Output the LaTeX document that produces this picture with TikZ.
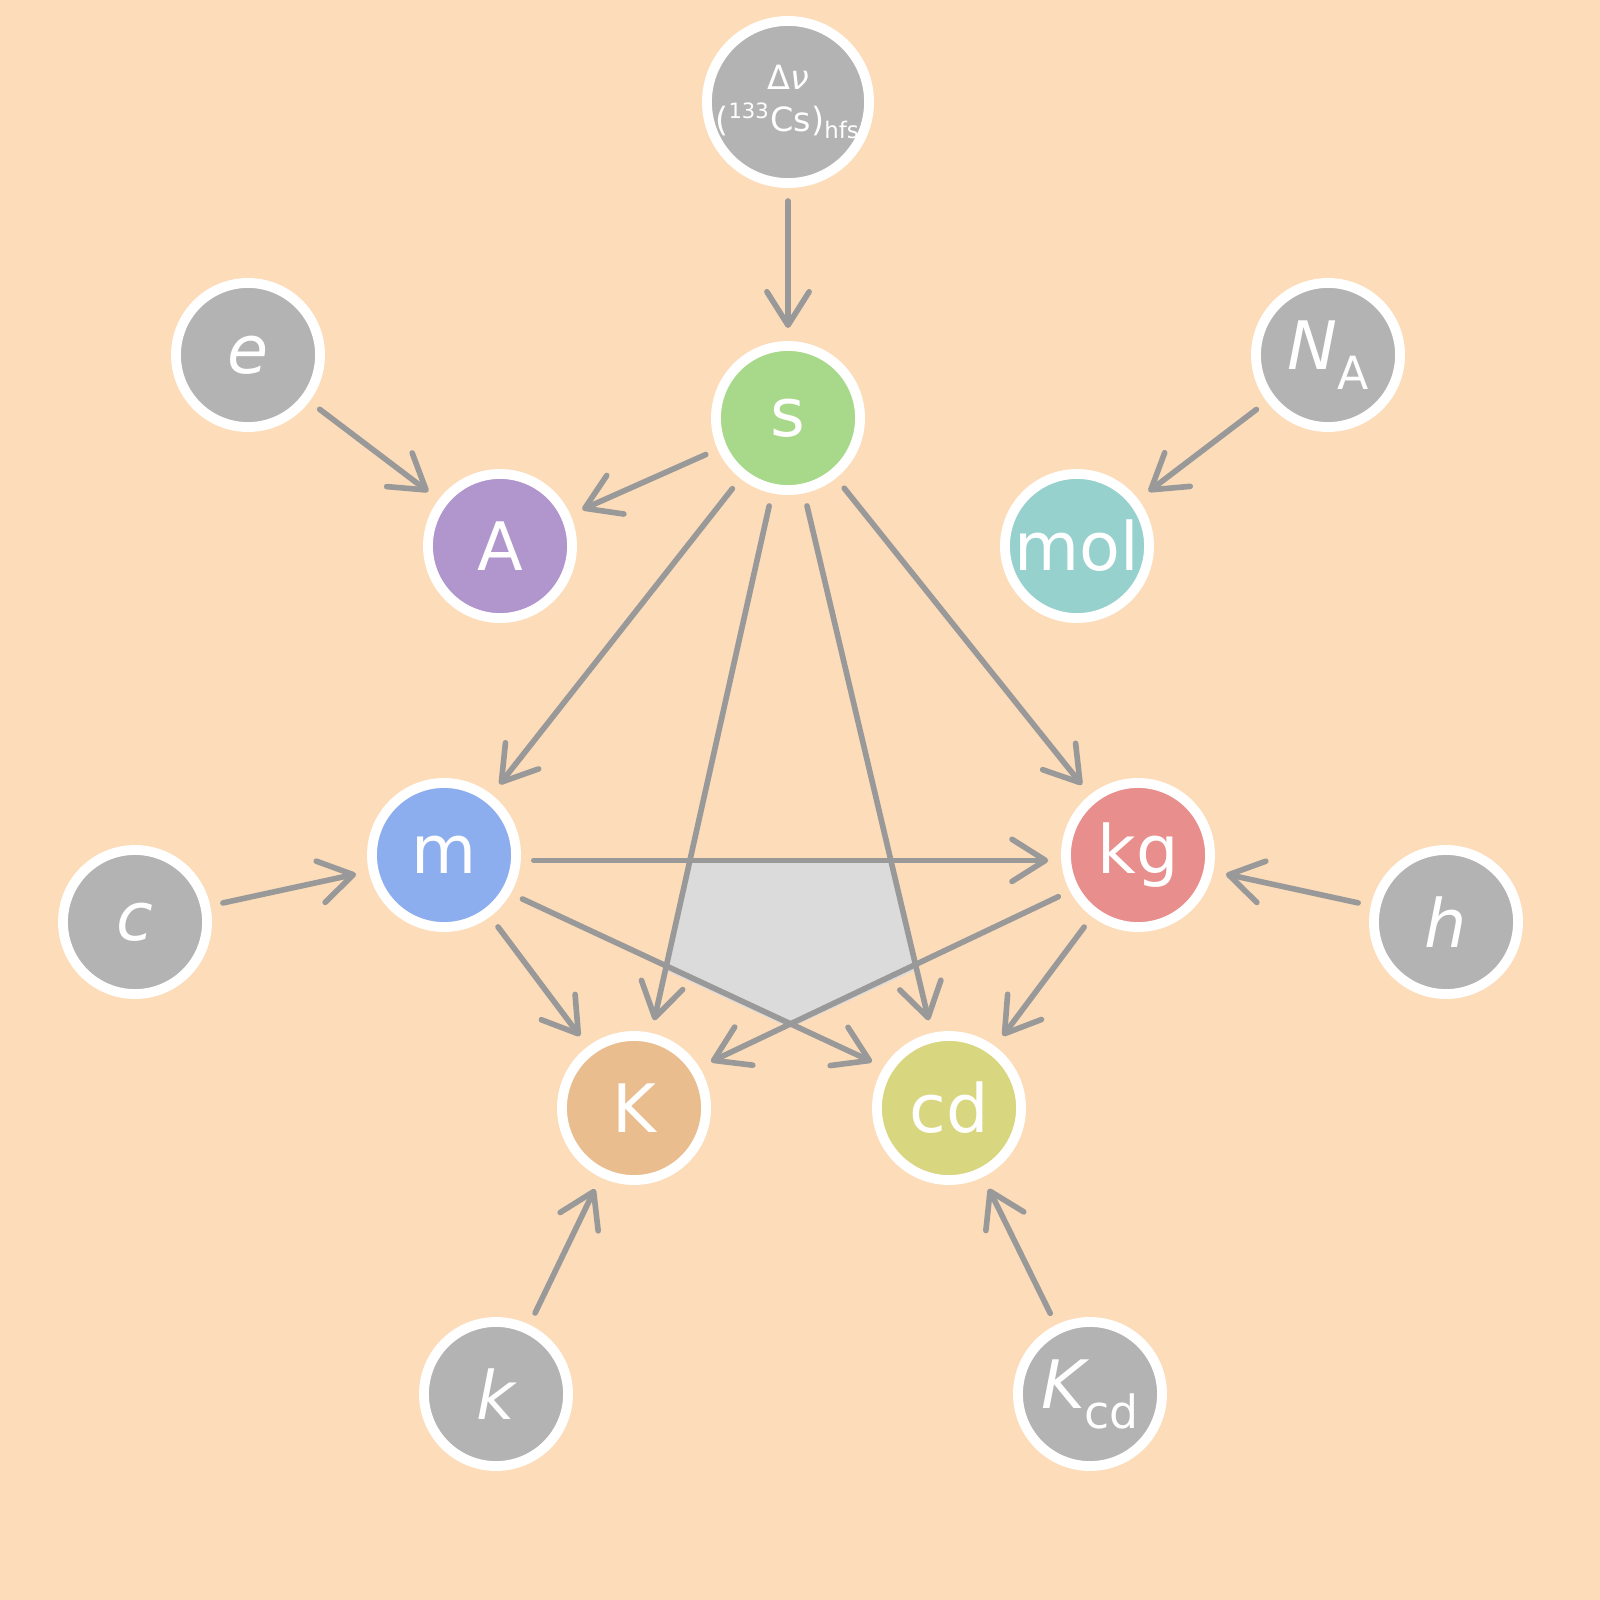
\documentclass[tikz,border=0pt]{standalone}
\usepackage{fontspec}
\setmainfont{DejaVu Sans}
\usetikzlibrary{arrows.meta}
\definecolor{bg}{HTML}{FDDCBA}
\definecolor{gr}{HTML}{B3B3B3}
\definecolor{ar}{HTML}{999999}
\definecolor{cs}{HTML}{A8D98A}
\definecolor{cA}{HTML}{B096CD}
\definecolor{cmol}{HTML}{96D1CD}
\definecolor{cm}{HTML}{8DAEEE}
\definecolor{ckg}{HTML}{E88E8C}
\definecolor{cK}{HTML}{EABD8F}
\definecolor{ccd}{HTML}{D8D67F}
\tikzset{
 unit/.style={circle,draw=white,line width=2.8pt,minimum size=1.44cm,inner sep=0pt,text=white,font=\fontsize{19}{21}\selectfont},
 const/.style={unit,fill=gr},
 arr/.style={draw=ar,line width=1.6pt,line cap=round,-{Straight Barb[length=9.5pt,width=12pt,line cap=round,line join=round]},shorten <=1.3mm,shorten >=1.3mm}
}
\begin{document}
\begin{tikzpicture}[x=0.01cm,y=-0.01cm]
\fill[bg] (0,0) rectangle (1600,1600);
\fill[fill=black!14] (690,862)--(890,862)--(915,970)--(790,1028)--(665,970)--cycle;
\node[const,font=\fontsize{9.5}{12}\selectfont,align=center] (dnu) at (788,102) {Δ{\itshape ν}\\(\textsuperscript{\fontsize{6}{6}\selectfont 133}Cs)\textsubscript{\fontsize{6.5}{6}\selectfont hfs}};
\node[unit,fill=cs] (s) at (788,418) {s};
\node[const] (e) at (248,355) {\itshape e};
\node[const] (NA) at (1328,355) {{\itshape N}\raisebox{-0.3em}{\fontsize{13}{13}\selectfont A}};
\node[unit,fill=cA] (A) at (500,546) {A};
\node[unit,fill=cmol] (mol) at (1077,546) {mol};
\node[unit,fill=cm] (m) at (444,855) {m};
\node[unit,fill=ckg] (kg) at (1138,855) {kg};
\node[const] (c) at (135,922) {\itshape c};
\node[const] (h) at (1446,922) {\itshape h};
\node[unit,fill=cK] (K) at (634,1108) {K};
\node[unit,fill=ccd] (cd) at (949,1108) {cd};
\node[const] (k) at (496,1394) {\itshape k};
\node[const] (Kcd) at (1090,1394) {{\itshape K}\raisebox{-0.3em}{\fontsize{13}{13}\selectfont cd}};
\draw[arr] (dnu)--(s);
\draw[arr] (e)--(A);
\draw[arr] (s)--(A);
\draw[arr] (NA)--(mol);
\draw[arr] (s)--(m);
\draw[arr] (s.{-102})--(K.{77});
\draw[arr] (s.{-78})--(cd.{103});
\draw[arr] (s)--(kg);
\draw[arr] (m.{-4})--(kg.{184});
\draw[arr] (c)--(m);
\draw[arr] (h)--(kg);
\draw[arr] (m)--(K);
\draw[arr] (m.{-30})--(cd.{148});
\draw[arr] (kg.{208})--(K.{32});
\draw[arr] (kg)--(cd);
\draw[arr] (k)--(K);
\draw[arr] (Kcd)--(cd);
\pgfresetboundingbox
\useasboundingbox (0,0) rectangle (1600,1600);
\end{tikzpicture}
\end{document}
